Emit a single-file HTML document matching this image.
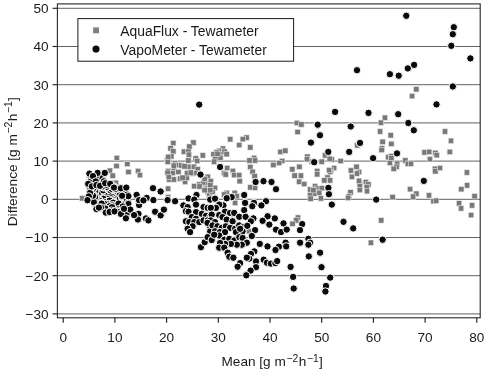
<!DOCTYPE html><html><head><meta charset="utf-8"><title>Bland-Altman plot</title><style>html,body{margin:0;padding:0;background:#fff}svg{display:block}text{font-family:"Liberation Sans",Arial,Helvetica,sans-serif;fill:#1a1a1a}</style></head><body>
<svg width="485" height="370" viewBox="0 0 485 370">
<rect width="485" height="370" fill="#fff"/>
<g stroke="#626262" stroke-width="1">
<line x1="57.4" x2="480.2" y1="313.90" y2="313.90"/>
<line x1="57.4" x2="480.2" y1="275.70" y2="275.70"/>
<line x1="57.4" x2="480.2" y1="237.50" y2="237.50"/>
<line x1="57.4" x2="480.2" y1="199.30" y2="199.30"/>
<line x1="57.4" x2="480.2" y1="161.10" y2="161.10"/>
<line x1="57.4" x2="480.2" y1="122.90" y2="122.90"/>
<line x1="57.4" x2="480.2" y1="84.70" y2="84.70"/>
<line x1="57.4" x2="480.2" y1="46.50" y2="46.50"/>
<line x1="57.4" x2="480.2" y1="8.30" y2="8.30"/>
</g>
<g fill="#797979" stroke="#e8e8e8" stroke-width="0.6">
<rect x="103.3" y="182.2" width="5.4" height="5.4"/>
<rect x="98.2" y="199.1" width="5.4" height="5.4"/>
<rect x="96.6" y="193.2" width="5.4" height="5.4"/>
<rect x="103.4" y="199.3" width="5.4" height="5.4"/>
<rect x="109.5" y="181.5" width="5.4" height="5.4"/>
<rect x="85.4" y="180.9" width="5.4" height="5.4"/>
<rect x="98.0" y="190.3" width="5.4" height="5.4"/>
<rect x="109.8" y="199.0" width="5.4" height="5.4"/>
<rect x="86.6" y="197.5" width="5.4" height="5.4"/>
<rect x="109.7" y="198.4" width="5.4" height="5.4"/>
<rect x="102.5" y="181.2" width="5.4" height="5.4"/>
<rect x="110.8" y="196.7" width="5.4" height="5.4"/>
<rect x="105.8" y="199.8" width="5.4" height="5.4"/>
<rect x="95.7" y="175.8" width="5.4" height="5.4"/>
<rect x="101.9" y="196.4" width="5.4" height="5.4"/>
<rect x="91.3" y="195.1" width="5.4" height="5.4"/>
<rect x="113.3" y="180.1" width="5.4" height="5.4"/>
<rect x="103.5" y="193.0" width="5.4" height="5.4"/>
<rect x="99.3" y="179.3" width="5.4" height="5.4"/>
<rect x="92.9" y="195.1" width="5.4" height="5.4"/>
<rect x="109.0" y="186.6" width="5.4" height="5.4"/>
<rect x="87.9" y="196.7" width="5.4" height="5.4"/>
<rect x="108.5" y="180.1" width="5.4" height="5.4"/>
<rect x="102.7" y="199.3" width="5.4" height="5.4"/>
<rect x="111.9" y="188.4" width="5.4" height="5.4"/>
<rect x="413.6" y="86.6" width="5.4" height="5.4"/>
<rect x="409.4" y="93.4" width="5.4" height="5.4"/>
<rect x="382.2" y="115.0" width="5.4" height="5.4"/>
<rect x="378.2" y="120.0" width="5.4" height="5.4"/>
<rect x="377.4" y="128.8" width="5.4" height="5.4"/>
<rect x="388.0" y="132.6" width="5.4" height="5.4"/>
<rect x="379.9" y="139.1" width="5.4" height="5.4"/>
<rect x="388.7" y="141.2" width="5.4" height="5.4"/>
<rect x="379.4" y="145.7" width="5.4" height="5.4"/>
<rect x="442.3" y="128.8" width="5.4" height="5.4"/>
<rect x="448.3" y="138.1" width="5.4" height="5.4"/>
<rect x="447.1" y="149.2" width="5.4" height="5.4"/>
<rect x="421.9" y="149.7" width="5.4" height="5.4"/>
<rect x="426.5" y="149.2" width="5.4" height="5.4"/>
<rect x="432.7" y="150.2" width="5.4" height="5.4"/>
<rect x="434.0" y="152.5" width="5.4" height="5.4"/>
<rect x="427.2" y="156.5" width="5.4" height="5.4"/>
<rect x="385.5" y="154.5" width="5.4" height="5.4"/>
<rect x="388.5" y="153.5" width="5.4" height="5.4"/>
<rect x="388.7" y="155.5" width="5.4" height="5.4"/>
<rect x="387.2" y="160.3" width="5.4" height="5.4"/>
<rect x="394.5" y="161.0" width="5.4" height="5.4"/>
<rect x="393.8" y="164.1" width="5.4" height="5.4"/>
<rect x="391.0" y="166.1" width="5.4" height="5.4"/>
<rect x="402.6" y="157.8" width="5.4" height="5.4"/>
<rect x="405.1" y="161.0" width="5.4" height="5.4"/>
<rect x="408.3" y="161.0" width="5.4" height="5.4"/>
<rect x="432.2" y="166.1" width="5.4" height="5.4"/>
<rect x="432.7" y="168.6" width="5.4" height="5.4"/>
<rect x="437.3" y="165.3" width="5.4" height="5.4"/>
<rect x="464.2" y="169.8" width="5.4" height="5.4"/>
<rect x="294.1" y="120.3" width="5.4" height="5.4"/>
<rect x="298.7" y="121.8" width="5.4" height="5.4"/>
<rect x="294.9" y="129.3" width="5.4" height="5.4"/>
<rect x="243.8" y="134.9" width="5.4" height="5.4"/>
<rect x="240.1" y="136.4" width="5.4" height="5.4"/>
<rect x="247.6" y="144.7" width="5.4" height="5.4"/>
<rect x="277.8" y="149.2" width="5.4" height="5.4"/>
<rect x="282.6" y="148.0" width="5.4" height="5.4"/>
<rect x="304.7" y="154.0" width="5.4" height="5.4"/>
<rect x="304.2" y="156.5" width="5.4" height="5.4"/>
<rect x="322.3" y="152.7" width="5.4" height="5.4"/>
<rect x="329.1" y="156.8" width="5.4" height="5.4"/>
<rect x="337.9" y="158.3" width="5.4" height="5.4"/>
<rect x="319.0" y="159.0" width="5.4" height="5.4"/>
<rect x="309.2" y="159.0" width="5.4" height="5.4"/>
<rect x="354.5" y="142.7" width="5.4" height="5.4"/>
<rect x="251.4" y="155.2" width="5.4" height="5.4"/>
<rect x="246.8" y="157.8" width="5.4" height="5.4"/>
<rect x="252.4" y="157.8" width="5.4" height="5.4"/>
<rect x="247.6" y="164.3" width="5.4" height="5.4"/>
<rect x="249.9" y="169.1" width="5.4" height="5.4"/>
<rect x="251.9" y="173.4" width="5.4" height="5.4"/>
<rect x="279.5" y="158.3" width="5.4" height="5.4"/>
<rect x="276.5" y="160.3" width="5.4" height="5.4"/>
<rect x="270.7" y="162.3" width="5.4" height="5.4"/>
<rect x="296.7" y="164.1" width="5.4" height="5.4"/>
<rect x="289.6" y="166.6" width="5.4" height="5.4"/>
<rect x="291.9" y="172.9" width="5.4" height="5.4"/>
<rect x="298.2" y="172.9" width="5.4" height="5.4"/>
<rect x="314.5" y="168.3" width="5.4" height="5.4"/>
<rect x="314.5" y="171.6" width="5.4" height="5.4"/>
<rect x="324.8" y="174.9" width="5.4" height="5.4"/>
<rect x="331.4" y="165.3" width="5.4" height="5.4"/>
<rect x="328.3" y="167.8" width="5.4" height="5.4"/>
<rect x="353.8" y="164.1" width="5.4" height="5.4"/>
<rect x="348.2" y="167.8" width="5.4" height="5.4"/>
<rect x="356.3" y="169.3" width="5.4" height="5.4"/>
<rect x="354.3" y="170.8" width="5.4" height="5.4"/>
<rect x="349.2" y="174.1" width="5.4" height="5.4"/>
<rect x="227.5" y="136.6" width="5.4" height="5.4"/>
<rect x="236.5" y="142.4" width="5.4" height="5.4"/>
<rect x="190.7" y="139.9" width="5.4" height="5.4"/>
<rect x="170.6" y="140.4" width="5.4" height="5.4"/>
<rect x="186.7" y="143.9" width="5.4" height="5.4"/>
<rect x="167.9" y="145.7" width="5.4" height="5.4"/>
<rect x="170.6" y="148.7" width="5.4" height="5.4"/>
<rect x="181.2" y="149.0" width="5.4" height="5.4"/>
<rect x="185.7" y="149.0" width="5.4" height="5.4"/>
<rect x="186.2" y="152.0" width="5.4" height="5.4"/>
<rect x="200.1" y="152.7" width="5.4" height="5.4"/>
<rect x="168.6" y="153.7" width="5.4" height="5.4"/>
<rect x="164.3" y="157.3" width="5.4" height="5.4"/>
<rect x="185.7" y="157.8" width="5.4" height="5.4"/>
<rect x="193.0" y="155.8" width="5.4" height="5.4"/>
<rect x="194.5" y="158.3" width="5.4" height="5.4"/>
<rect x="220.2" y="145.9" width="5.4" height="5.4"/>
<rect x="216.4" y="148.2" width="5.4" height="5.4"/>
<rect x="213.9" y="149.7" width="5.4" height="5.4"/>
<rect x="210.9" y="151.7" width="5.4" height="5.4"/>
<rect x="217.7" y="151.5" width="5.4" height="5.4"/>
<rect x="221.9" y="149.0" width="5.4" height="5.4"/>
<rect x="223.9" y="151.5" width="5.4" height="5.4"/>
<rect x="217.7" y="155.2" width="5.4" height="5.4"/>
<rect x="212.6" y="156.5" width="5.4" height="5.4"/>
<rect x="211.4" y="159.0" width="5.4" height="5.4"/>
<rect x="124.6" y="161.3" width="5.4" height="5.4"/>
<rect x="125.8" y="169.3" width="5.4" height="5.4"/>
<rect x="135.4" y="168.3" width="5.4" height="5.4"/>
<rect x="137.2" y="172.4" width="5.4" height="5.4"/>
<rect x="172.4" y="160.8" width="5.4" height="5.4"/>
<rect x="174.9" y="162.3" width="5.4" height="5.4"/>
<rect x="178.7" y="162.8" width="5.4" height="5.4"/>
<rect x="171.1" y="165.3" width="5.4" height="5.4"/>
<rect x="165.6" y="168.3" width="5.4" height="5.4"/>
<rect x="175.7" y="169.3" width="5.4" height="5.4"/>
<rect x="169.9" y="170.3" width="5.4" height="5.4"/>
<rect x="185.7" y="164.1" width="5.4" height="5.4"/>
<rect x="191.2" y="164.1" width="5.4" height="5.4"/>
<rect x="195.0" y="166.6" width="5.4" height="5.4"/>
<rect x="186.2" y="170.3" width="5.4" height="5.4"/>
<rect x="190.0" y="170.8" width="5.4" height="5.4"/>
<rect x="193.8" y="170.3" width="5.4" height="5.4"/>
<rect x="224.5" y="165.3" width="5.4" height="5.4"/>
<rect x="230.2" y="168.3" width="5.4" height="5.4"/>
<rect x="221.4" y="170.3" width="5.4" height="5.4"/>
<rect x="231.5" y="172.4" width="5.4" height="5.4"/>
<rect x="236.5" y="172.4" width="5.4" height="5.4"/>
<rect x="205.1" y="174.1" width="5.4" height="5.4"/>
<rect x="107.2" y="168.0" width="5.4" height="5.4"/>
<rect x="110.0" y="173.0" width="5.4" height="5.4"/>
<rect x="113.8" y="163.3" width="5.4" height="5.4"/>
<rect x="79.6" y="195.6" width="5.4" height="5.4"/>
<rect x="164.9" y="170.1" width="5.4" height="5.4"/>
<rect x="166.5" y="176.8" width="5.4" height="5.4"/>
<rect x="171.1" y="176.8" width="5.4" height="5.4"/>
<rect x="177.4" y="176.0" width="5.4" height="5.4"/>
<rect x="182.4" y="179.3" width="5.4" height="5.4"/>
<rect x="184.1" y="175.1" width="5.4" height="5.4"/>
<rect x="165.4" y="186.0" width="5.4" height="5.4"/>
<rect x="191.6" y="183.5" width="5.4" height="5.4"/>
<rect x="196.6" y="181.8" width="5.4" height="5.4"/>
<rect x="200.8" y="180.2" width="5.4" height="5.4"/>
<rect x="205.8" y="181.0" width="5.4" height="5.4"/>
<rect x="203.3" y="185.2" width="5.4" height="5.4"/>
<rect x="205.0" y="189.3" width="5.4" height="5.4"/>
<rect x="206.6" y="191.8" width="5.4" height="5.4"/>
<rect x="165.4" y="194.4" width="5.4" height="5.4"/>
<rect x="208.1" y="178.5" width="5.4" height="5.4"/>
<rect x="212.3" y="185.2" width="5.4" height="5.4"/>
<rect x="209.8" y="189.3" width="5.4" height="5.4"/>
<rect x="204.8" y="186.0" width="5.4" height="5.4"/>
<rect x="237.0" y="178.5" width="5.4" height="5.4"/>
<rect x="247.7" y="184.7" width="5.4" height="5.4"/>
<rect x="252.4" y="185.2" width="5.4" height="5.4"/>
<rect x="224.0" y="190.2" width="5.4" height="5.4"/>
<rect x="221.5" y="191.8" width="5.4" height="5.4"/>
<rect x="232.0" y="190.2" width="5.4" height="5.4"/>
<rect x="234.0" y="193.5" width="5.4" height="5.4"/>
<rect x="232.4" y="200.2" width="5.4" height="5.4"/>
<rect x="246.6" y="228.6" width="5.4" height="5.4"/>
<rect x="296.5" y="179.0" width="5.4" height="5.4"/>
<rect x="301.5" y="181.3" width="5.4" height="5.4"/>
<rect x="327.4" y="177.7" width="5.4" height="5.4"/>
<rect x="321.6" y="177.7" width="5.4" height="5.4"/>
<rect x="327.4" y="169.3" width="5.4" height="5.4"/>
<rect x="312.4" y="183.5" width="5.4" height="5.4"/>
<rect x="314.4" y="186.0" width="5.4" height="5.4"/>
<rect x="319.1" y="185.5" width="5.4" height="5.4"/>
<rect x="307.4" y="186.8" width="5.4" height="5.4"/>
<rect x="313.2" y="189.0" width="5.4" height="5.4"/>
<rect x="316.5" y="190.2" width="5.4" height="5.4"/>
<rect x="311.5" y="191.0" width="5.4" height="5.4"/>
<rect x="307.4" y="192.3" width="5.4" height="5.4"/>
<rect x="318.2" y="195.7" width="5.4" height="5.4"/>
<rect x="307.9" y="196.0" width="5.4" height="5.4"/>
<rect x="347.8" y="189.7" width="5.4" height="5.4"/>
<rect x="346.3" y="193.5" width="5.4" height="5.4"/>
<rect x="345.4" y="195.2" width="5.4" height="5.4"/>
<rect x="357.1" y="180.2" width="5.4" height="5.4"/>
<rect x="357.1" y="183.5" width="5.4" height="5.4"/>
<rect x="357.1" y="187.3" width="5.4" height="5.4"/>
<rect x="295.2" y="214.9" width="5.4" height="5.4"/>
<rect x="293.5" y="217.7" width="5.4" height="5.4"/>
<rect x="289.8" y="221.1" width="5.4" height="5.4"/>
<rect x="363.2" y="179.3" width="5.4" height="5.4"/>
<rect x="365.7" y="181.8" width="5.4" height="5.4"/>
<rect x="364.0" y="184.3" width="5.4" height="5.4"/>
<rect x="364.3" y="188.5" width="5.4" height="5.4"/>
<rect x="389.9" y="194.4" width="5.4" height="5.4"/>
<rect x="407.4" y="186.5" width="5.4" height="5.4"/>
<rect x="413.6" y="191.0" width="5.4" height="5.4"/>
<rect x="410.4" y="193.9" width="5.4" height="5.4"/>
<rect x="426.3" y="192.7" width="5.4" height="5.4"/>
<rect x="430.8" y="198.5" width="5.4" height="5.4"/>
<rect x="378.5" y="217.7" width="5.4" height="5.4"/>
<rect x="433.5" y="198.0" width="5.4" height="5.4"/>
<rect x="464.4" y="182.7" width="5.4" height="5.4"/>
<rect x="458.6" y="186.5" width="5.4" height="5.4"/>
<rect x="471.9" y="193.5" width="5.4" height="5.4"/>
<rect x="456.4" y="200.7" width="5.4" height="5.4"/>
<rect x="458.4" y="205.7" width="5.4" height="5.4"/>
<rect x="469.4" y="202.7" width="5.4" height="5.4"/>
<rect x="468.4" y="212.4" width="5.4" height="5.4"/>
<rect x="368.2" y="240.0" width="5.4" height="5.4"/>
<rect x="114.1" y="155.3" width="5.4" height="5.4"/>
<rect x="165.5" y="154.2" width="5.4" height="5.4"/>
<rect x="165.1" y="159.2" width="5.4" height="5.4"/>
<rect x="171.1" y="163.0" width="5.4" height="5.4"/>
<rect x="181.8" y="163.7" width="5.4" height="5.4"/>
<rect x="184.3" y="170.6" width="5.4" height="5.4"/>
<rect x="188.1" y="169.9" width="5.4" height="5.4"/>
<rect x="166.1" y="174.3" width="5.4" height="5.4"/>
<rect x="179.9" y="175.0" width="5.4" height="5.4"/>
<rect x="196.9" y="183.8" width="5.4" height="5.4"/>
<rect x="201.9" y="176.2" width="5.4" height="5.4"/>
<rect x="207.6" y="182.5" width="5.4" height="5.4"/>
<rect x="201.9" y="187.5" width="5.4" height="5.4"/>
<rect x="207.6" y="187.5" width="5.4" height="5.4"/>
<rect x="214.8" y="151.1" width="5.4" height="5.4"/>
<rect x="223.0" y="171.8" width="5.4" height="5.4"/>
<rect x="327.0" y="156.1" width="5.4" height="5.4"/>
<rect x="326.4" y="167.4" width="5.4" height="5.4"/>
<rect x="310.7" y="187.5" width="5.4" height="5.4"/>
<rect x="356.3" y="178.1" width="5.4" height="5.4"/>
<rect x="378.9" y="147.3" width="5.4" height="5.4"/>
</g>
<g fill="#0a0a0a" stroke="#fff" stroke-width="1.0">
<circle cx="108.6" cy="198.0" r="3.7"/>
<circle cx="113.4" cy="198.8" r="3.7"/>
<circle cx="108.1" cy="196.0" r="3.7"/>
<circle cx="102.2" cy="196.2" r="3.7"/>
<circle cx="108.6" cy="197.8" r="3.7"/>
<circle cx="103.5" cy="195.3" r="3.7"/>
<circle cx="112.7" cy="197.6" r="3.7"/>
<circle cx="111.3" cy="199.2" r="3.7"/>
<circle cx="106.4" cy="198.9" r="3.7"/>
<circle cx="106.2" cy="197.9" r="3.7"/>
<circle cx="105.1" cy="195.6" r="3.7"/>
<circle cx="103.3" cy="196.4" r="3.7"/>
<circle cx="107.3" cy="196.2" r="3.7"/>
<circle cx="101.7" cy="192.0" r="3.7"/>
<circle cx="111.2" cy="197.3" r="3.7"/>
<circle cx="114.6" cy="196.7" r="3.7"/>
<circle cx="104.3" cy="197.4" r="3.7"/>
<circle cx="100.6" cy="191.6" r="3.7"/>
<circle cx="111.4" cy="203.2" r="3.7"/>
<circle cx="110.4" cy="197.4" r="3.7"/>
<circle cx="103.6" cy="193.0" r="3.7"/>
<circle cx="100.0" cy="197.0" r="3.7"/>
<circle cx="114.0" cy="196.3" r="3.7"/>
<circle cx="119.5" cy="204.0" r="3.7"/>
<circle cx="101.2" cy="198.7" r="3.7"/>
<circle cx="112.8" cy="194.9" r="3.7"/>
<circle cx="104.6" cy="200.6" r="3.7"/>
<circle cx="103.4" cy="198.8" r="3.7"/>
<circle cx="101.3" cy="193.7" r="3.7"/>
<circle cx="99.8" cy="191.5" r="3.7"/>
<circle cx="104.7" cy="202.4" r="3.7"/>
<circle cx="99.6" cy="191.7" r="3.7"/>
<circle cx="101.5" cy="191.3" r="3.7"/>
<circle cx="115.6" cy="192.9" r="3.7"/>
<circle cx="109.1" cy="202.7" r="3.7"/>
<circle cx="96.8" cy="188.5" r="3.7"/>
<circle cx="98.8" cy="193.8" r="3.7"/>
<circle cx="105.9" cy="192.5" r="3.7"/>
<circle cx="96.8" cy="181.2" r="3.7"/>
<circle cx="114.6" cy="194.6" r="3.7"/>
<circle cx="104.6" cy="199.6" r="3.7"/>
<circle cx="109.3" cy="194.0" r="3.7"/>
<circle cx="113.4" cy="202.5" r="3.7"/>
<circle cx="118.1" cy="201.3" r="3.7"/>
<circle cx="101.2" cy="194.6" r="3.7"/>
<circle cx="97.6" cy="191.3" r="3.7"/>
<circle cx="114.2" cy="192.2" r="3.7"/>
<circle cx="102.6" cy="201.6" r="3.7"/>
<circle cx="106.8" cy="195.1" r="3.7"/>
<circle cx="95.7" cy="182.5" r="3.7"/>
<circle cx="99.8" cy="198.7" r="3.7"/>
<circle cx="120.5" cy="194.1" r="3.7"/>
<circle cx="114.2" cy="203.7" r="3.7"/>
<circle cx="105.5" cy="201.6" r="3.7"/>
<circle cx="97.7" cy="187.7" r="3.7"/>
<circle cx="99.6" cy="200.1" r="3.7"/>
<circle cx="101.9" cy="199.9" r="3.7"/>
<circle cx="96.7" cy="191.5" r="3.7"/>
<circle cx="97.3" cy="195.2" r="3.7"/>
<circle cx="117.9" cy="203.5" r="3.7"/>
<circle cx="98.4" cy="193.7" r="3.7"/>
<circle cx="95.5" cy="191.3" r="3.7"/>
<circle cx="117.5" cy="206.8" r="3.7"/>
<circle cx="97.3" cy="181.9" r="3.7"/>
<circle cx="119.5" cy="199.2" r="3.7"/>
<circle cx="101.9" cy="190.0" r="3.7"/>
<circle cx="108.7" cy="203.3" r="3.7"/>
<circle cx="111.1" cy="192.4" r="3.7"/>
<circle cx="120.8" cy="194.8" r="3.7"/>
<circle cx="107.5" cy="206.3" r="3.7"/>
<circle cx="118.8" cy="193.0" r="3.7"/>
<circle cx="108.9" cy="190.7" r="3.7"/>
<circle cx="120.9" cy="204.1" r="3.7"/>
<circle cx="95.0" cy="197.4" r="3.7"/>
<circle cx="117.3" cy="191.9" r="3.7"/>
<circle cx="99.7" cy="188.3" r="3.7"/>
<circle cx="96.2" cy="182.9" r="3.7"/>
<circle cx="118.3" cy="195.9" r="3.7"/>
<circle cx="99.3" cy="185.1" r="3.7"/>
<circle cx="121.5" cy="200.1" r="3.7"/>
<circle cx="99.1" cy="195.7" r="3.7"/>
<circle cx="114.9" cy="206.8" r="3.7"/>
<circle cx="96.1" cy="181.7" r="3.7"/>
<circle cx="95.5" cy="194.6" r="3.7"/>
<circle cx="102.1" cy="199.7" r="3.7"/>
<circle cx="96.3" cy="184.4" r="3.7"/>
<circle cx="103.2" cy="198.7" r="3.7"/>
<circle cx="95.3" cy="191.8" r="3.7"/>
<circle cx="115.2" cy="207.1" r="3.7"/>
<circle cx="123.6" cy="204.6" r="3.7"/>
<circle cx="102.2" cy="190.0" r="3.7"/>
<circle cx="103.1" cy="206.0" r="3.7"/>
<circle cx="102.3" cy="186.6" r="3.7"/>
<circle cx="106.2" cy="190.1" r="3.7"/>
<circle cx="109.3" cy="202.6" r="3.7"/>
<circle cx="101.6" cy="187.6" r="3.7"/>
<circle cx="94.7" cy="190.4" r="3.7"/>
<circle cx="103.7" cy="190.1" r="3.7"/>
<circle cx="114.4" cy="205.8" r="3.7"/>
<circle cx="105.9" cy="202.0" r="3.7"/>
<circle cx="102.9" cy="205.4" r="3.7"/>
<circle cx="109.7" cy="200.6" r="3.7"/>
<circle cx="119.9" cy="198.9" r="3.7"/>
<circle cx="101.2" cy="188.1" r="3.7"/>
<circle cx="104.9" cy="204.9" r="3.7"/>
<circle cx="108.8" cy="203.9" r="3.7"/>
<circle cx="102.0" cy="187.8" r="3.7"/>
<circle cx="113.2" cy="202.7" r="3.7"/>
<circle cx="112.4" cy="193.5" r="3.7"/>
<circle cx="109.4" cy="189.5" r="3.7"/>
<circle cx="98.0" cy="193.0" r="3.7"/>
<circle cx="96.2" cy="183.5" r="3.7"/>
<circle cx="96.4" cy="187.5" r="3.7"/>
<circle cx="100.2" cy="180.5" r="3.7"/>
<circle cx="95.5" cy="181.8" r="3.7"/>
<circle cx="120.8" cy="204.8" r="3.7"/>
<circle cx="103.5" cy="207.3" r="3.7"/>
<circle cx="108.4" cy="205.8" r="3.7"/>
<circle cx="107.6" cy="191.9" r="3.7"/>
<circle cx="121.6" cy="202.6" r="3.7"/>
<circle cx="94.9" cy="186.9" r="3.7"/>
<circle cx="100.6" cy="183.2" r="3.7"/>
<circle cx="116.9" cy="206.8" r="3.7"/>
<circle cx="97.8" cy="181.6" r="3.7"/>
<circle cx="107.2" cy="205.2" r="3.7"/>
<circle cx="99.3" cy="199.7" r="3.7"/>
<circle cx="94.1" cy="182.7" r="3.7"/>
<circle cx="115.2" cy="188.1" r="3.7"/>
<circle cx="99.2" cy="184.8" r="3.7"/>
<circle cx="96.5" cy="201.6" r="3.7"/>
<circle cx="96.9" cy="184.0" r="3.7"/>
<circle cx="123.1" cy="209.4" r="3.7"/>
<circle cx="95.4" cy="195.2" r="3.7"/>
<circle cx="114.9" cy="190.1" r="3.7"/>
<circle cx="108.2" cy="189.4" r="3.7"/>
<circle cx="123.3" cy="209.4" r="3.7"/>
<circle cx="93.6" cy="185.8" r="3.7"/>
<circle cx="99.4" cy="200.8" r="3.7"/>
<circle cx="112.7" cy="205.2" r="3.7"/>
<circle cx="110.3" cy="188.5" r="3.7"/>
<circle cx="125.2" cy="194.9" r="3.7"/>
<circle cx="96.0" cy="200.2" r="3.7"/>
<circle cx="123.0" cy="198.7" r="3.7"/>
<circle cx="106.4" cy="203.8" r="3.7"/>
<circle cx="120.7" cy="191.1" r="3.7"/>
<circle cx="113.8" cy="186.4" r="3.7"/>
<circle cx="107.1" cy="187.2" r="3.7"/>
<circle cx="114.7" cy="206.1" r="3.7"/>
<circle cx="104.2" cy="203.9" r="3.7"/>
<circle cx="111.6" cy="187.6" r="3.7"/>
<circle cx="118.6" cy="203.6" r="3.7"/>
<circle cx="99.2" cy="188.0" r="3.7"/>
<circle cx="120.3" cy="193.3" r="3.7"/>
<circle cx="111.1" cy="192.7" r="3.7"/>
<circle cx="94.7" cy="188.6" r="3.7"/>
<circle cx="99.5" cy="183.4" r="3.7"/>
<circle cx="104.6" cy="188.3" r="3.7"/>
<circle cx="111.3" cy="190.1" r="3.7"/>
<circle cx="108.7" cy="189.2" r="3.7"/>
<circle cx="95.0" cy="200.7" r="3.7"/>
<circle cx="91.5" cy="191.5" r="3.7"/>
<circle cx="94.2" cy="182.7" r="3.7"/>
<circle cx="117.7" cy="191.8" r="3.7"/>
<circle cx="103.2" cy="190.3" r="3.7"/>
<circle cx="122.4" cy="208.1" r="3.7"/>
<circle cx="122.6" cy="197.3" r="3.7"/>
<circle cx="90.3" cy="182.1" r="3.7"/>
<circle cx="100.9" cy="203.0" r="3.7"/>
<circle cx="124.2" cy="196.5" r="3.7"/>
<circle cx="101.8" cy="179.0" r="3.7"/>
<circle cx="124.1" cy="209.4" r="3.7"/>
<circle cx="108.5" cy="189.3" r="3.7"/>
<circle cx="92.4" cy="194.5" r="3.7"/>
<circle cx="103.8" cy="187.5" r="3.7"/>
<circle cx="102.5" cy="186.9" r="3.7"/>
<circle cx="118.2" cy="209.3" r="3.7"/>
<circle cx="90.1" cy="180.5" r="3.7"/>
<circle cx="121.8" cy="196.4" r="3.7"/>
<circle cx="93.8" cy="196.3" r="3.7"/>
<circle cx="95.8" cy="200.8" r="3.7"/>
<circle cx="109.1" cy="206.8" r="3.7"/>
<circle cx="110.0" cy="190.0" r="3.7"/>
<circle cx="94.8" cy="180.7" r="3.7"/>
<circle cx="92.2" cy="177.1" r="3.7"/>
<circle cx="90.9" cy="187.3" r="3.7"/>
<circle cx="126.7" cy="205.6" r="3.7"/>
<circle cx="103.0" cy="180.5" r="3.7"/>
<circle cx="119.9" cy="193.2" r="3.7"/>
<circle cx="109.3" cy="187.0" r="3.7"/>
<circle cx="98.9" cy="181.0" r="3.7"/>
<circle cx="124.3" cy="211.3" r="3.7"/>
<circle cx="99.3" cy="179.4" r="3.7"/>
<circle cx="124.1" cy="192.2" r="3.7"/>
<circle cx="109.6" cy="206.2" r="3.7"/>
<circle cx="90.8" cy="197.3" r="3.7"/>
<circle cx="97.0" cy="204.0" r="3.7"/>
<circle cx="126.4" cy="193.2" r="3.7"/>
<circle cx="125.7" cy="202.6" r="3.7"/>
<circle cx="91.2" cy="190.0" r="3.7"/>
<circle cx="95.4" cy="185.1" r="3.7"/>
<circle cx="91.2" cy="182.2" r="3.7"/>
<circle cx="127.7" cy="203.1" r="3.7"/>
<circle cx="112.3" cy="190.2" r="3.7"/>
<circle cx="94.9" cy="191.4" r="3.7"/>
<circle cx="122.9" cy="207.1" r="3.7"/>
<circle cx="110.6" cy="190.4" r="3.7"/>
<circle cx="94.2" cy="177.1" r="3.7"/>
<circle cx="121.4" cy="211.7" r="3.7"/>
<circle cx="93.6" cy="179.4" r="3.7"/>
<circle cx="96.5" cy="177.1" r="3.7"/>
<circle cx="126.8" cy="199.1" r="3.7"/>
<circle cx="125.5" cy="213.5" r="3.7"/>
<circle cx="94.3" cy="200.6" r="3.7"/>
<circle cx="103.0" cy="184.6" r="3.7"/>
<circle cx="111.8" cy="188.9" r="3.7"/>
<circle cx="96.7" cy="206.8" r="3.7"/>
<circle cx="94.4" cy="184.9" r="3.7"/>
<circle cx="93.5" cy="188.4" r="3.7"/>
<circle cx="127.5" cy="207.4" r="3.7"/>
<circle cx="124.3" cy="192.2" r="3.7"/>
<circle cx="126.7" cy="211.8" r="3.7"/>
<circle cx="97.9" cy="180.0" r="3.7"/>
<circle cx="94.4" cy="202.9" r="3.7"/>
<circle cx="101.6" cy="203.6" r="3.7"/>
<circle cx="90.9" cy="197.3" r="3.7"/>
<circle cx="92.6" cy="181.0" r="3.7"/>
<circle cx="90.5" cy="180.7" r="3.7"/>
<circle cx="91.7" cy="193.0" r="3.7"/>
<circle cx="108.3" cy="184.8" r="3.7"/>
<circle cx="114.8" cy="187.9" r="3.7"/>
<circle cx="100.8" cy="182.8" r="3.7"/>
<circle cx="90.7" cy="191.7" r="3.7"/>
<circle cx="126.3" cy="207.0" r="3.7"/>
<circle cx="92.9" cy="200.6" r="3.7"/>
<circle cx="119.9" cy="211.5" r="3.7"/>
<circle cx="100.9" cy="175.9" r="3.7"/>
<circle cx="116.6" cy="189.2" r="3.7"/>
<circle cx="128.3" cy="202.7" r="3.7"/>
<circle cx="112.0" cy="207.2" r="3.7"/>
<circle cx="102.0" cy="186.0" r="3.7"/>
<circle cx="95.1" cy="197.0" r="3.7"/>
<circle cx="91.4" cy="195.4" r="3.7"/>
<circle cx="93.3" cy="194.6" r="3.7"/>
<circle cx="91.9" cy="192.2" r="3.7"/>
<circle cx="125.8" cy="213.1" r="3.7"/>
<circle cx="93.8" cy="202.1" r="3.7"/>
<circle cx="123.1" cy="209.9" r="3.7"/>
<circle cx="90.0" cy="181.8" r="3.7"/>
<circle cx="128.1" cy="211.7" r="3.7"/>
<circle cx="104.1" cy="183.9" r="3.7"/>
<circle cx="111.5" cy="210.6" r="3.7"/>
<circle cx="115.7" cy="210.8" r="3.7"/>
<circle cx="102.9" cy="182.1" r="3.7"/>
<circle cx="108.8" cy="185.9" r="3.7"/>
<circle cx="106.1" cy="184.9" r="3.7"/>
<circle cx="90.3" cy="192.1" r="3.7"/>
<circle cx="93.0" cy="195.7" r="3.7"/>
<circle cx="106.2" cy="187.0" r="3.7"/>
<circle cx="97.8" cy="208.1" r="3.7"/>
<circle cx="106.5" cy="184.5" r="3.7"/>
<circle cx="103.1" cy="186.3" r="3.7"/>
<circle cx="115.3" cy="188.9" r="3.7"/>
<circle cx="99.9" cy="176.4" r="3.7"/>
<circle cx="126.9" cy="212.7" r="3.7"/>
<circle cx="105.4" cy="208.6" r="3.7"/>
<circle cx="90.5" cy="188.2" r="3.7"/>
<circle cx="90.2" cy="176.5" r="3.7"/>
<circle cx="127.3" cy="194.6" r="3.7"/>
<circle cx="118.2" cy="212.1" r="3.7"/>
<circle cx="91.1" cy="183.9" r="3.7"/>
<circle cx="90.9" cy="179.4" r="3.7"/>
<circle cx="95.9" cy="176.4" r="3.7"/>
<circle cx="90.3" cy="181.9" r="3.7"/>
<circle cx="103.7" cy="182.8" r="3.7"/>
<circle cx="96.8" cy="208.1" r="3.7"/>
<circle cx="101.0" cy="207.5" r="3.7"/>
<circle cx="112.3" cy="186.3" r="3.7"/>
<circle cx="90.0" cy="192.8" r="3.7"/>
<circle cx="103.9" cy="181.3" r="3.7"/>
<circle cx="106.2" cy="184.8" r="3.7"/>
<circle cx="406.3" cy="15.8" r="3.7"/>
<circle cx="453.8" cy="27.2" r="3.7"/>
<circle cx="452.8" cy="34.2" r="3.7"/>
<circle cx="451.3" cy="45.8" r="3.7"/>
<circle cx="470.4" cy="58.4" r="3.7"/>
<circle cx="414.1" cy="64.9" r="3.7"/>
<circle cx="407.8" cy="68.4" r="3.7"/>
<circle cx="389.9" cy="74.2" r="3.7"/>
<circle cx="398.7" cy="75.7" r="3.7"/>
<circle cx="452.8" cy="86.5" r="3.7"/>
<circle cx="357.0" cy="70.2" r="3.7"/>
<circle cx="436.5" cy="104.4" r="3.7"/>
<circle cx="368.5" cy="112.9" r="3.7"/>
<circle cx="398.2" cy="114.2" r="3.7"/>
<circle cx="408.3" cy="123.0" r="3.7"/>
<circle cx="413.8" cy="130.3" r="3.7"/>
<circle cx="397.0" cy="153.4" r="3.7"/>
<circle cx="373.1" cy="158.2" r="3.7"/>
<circle cx="335.1" cy="111.9" r="3.7"/>
<circle cx="317.7" cy="124.7" r="3.7"/>
<circle cx="350.7" cy="126.5" r="3.7"/>
<circle cx="320.0" cy="135.3" r="3.7"/>
<circle cx="310.9" cy="142.6" r="3.7"/>
<circle cx="360.0" cy="142.9" r="3.7"/>
<circle cx="328.3" cy="151.9" r="3.7"/>
<circle cx="349.2" cy="151.9" r="3.7"/>
<circle cx="314.2" cy="162.2" r="3.7"/>
<circle cx="199.2" cy="104.6" r="3.7"/>
<circle cx="220.1" cy="167.0" r="3.7"/>
<circle cx="200.5" cy="174.6" r="3.7"/>
<circle cx="89.4" cy="173.6" r="3.7"/>
<circle cx="97.6" cy="172.9" r="3.7"/>
<circle cx="104.8" cy="172.9" r="3.7"/>
<circle cx="93.0" cy="176.1" r="3.7"/>
<circle cx="95.7" cy="181.4" r="3.7"/>
<circle cx="88.2" cy="183.9" r="3.7"/>
<circle cx="91.9" cy="186.4" r="3.7"/>
<circle cx="96.4" cy="185.1" r="3.7"/>
<circle cx="100.1" cy="185.8" r="3.7"/>
<circle cx="105.2" cy="183.2" r="3.7"/>
<circle cx="110.2" cy="183.9" r="3.7"/>
<circle cx="114.0" cy="187.6" r="3.7"/>
<circle cx="120.9" cy="188.3" r="3.7"/>
<circle cx="126.3" cy="187.6" r="3.7"/>
<circle cx="128.4" cy="196.2" r="3.7"/>
<circle cx="136.6" cy="194.9" r="3.7"/>
<circle cx="122.1" cy="195.8" r="3.7"/>
<circle cx="88.8" cy="196.4" r="3.7"/>
<circle cx="87.5" cy="200.2" r="3.7"/>
<circle cx="128.4" cy="204.0" r="3.7"/>
<circle cx="139.1" cy="205.0" r="3.7"/>
<circle cx="139.1" cy="200.2" r="3.7"/>
<circle cx="96.4" cy="209.0" r="3.7"/>
<circle cx="130.3" cy="209.6" r="3.7"/>
<circle cx="122.8" cy="206.5" r="3.7"/>
<circle cx="98.9" cy="207.6" r="3.7"/>
<circle cx="105.8" cy="212.6" r="3.7"/>
<circle cx="109.6" cy="212.0" r="3.7"/>
<circle cx="114.6" cy="211.4" r="3.7"/>
<circle cx="120.9" cy="213.9" r="3.7"/>
<circle cx="125.9" cy="218.3" r="3.7"/>
<circle cx="124.0" cy="208.8" r="3.7"/>
<circle cx="138.5" cy="213.9" r="3.7"/>
<circle cx="137.9" cy="219.5" r="3.7"/>
<circle cx="134.1" cy="215.1" r="3.7"/>
<circle cx="153.0" cy="188.2" r="3.7"/>
<circle cx="160.6" cy="191.5" r="3.7"/>
<circle cx="146.7" cy="197.9" r="3.7"/>
<circle cx="143.4" cy="200.4" r="3.7"/>
<circle cx="153.4" cy="200.1" r="3.7"/>
<circle cx="167.6" cy="200.1" r="3.7"/>
<circle cx="175.1" cy="201.2" r="3.7"/>
<circle cx="145.9" cy="218.4" r="3.7"/>
<circle cx="148.4" cy="220.4" r="3.7"/>
<circle cx="155.1" cy="211.7" r="3.7"/>
<circle cx="160.6" cy="215.4" r="3.7"/>
<circle cx="163.9" cy="209.6" r="3.7"/>
<circle cx="196.5" cy="195.0" r="3.7"/>
<circle cx="188.5" cy="198.4" r="3.7"/>
<circle cx="194.3" cy="199.6" r="3.7"/>
<circle cx="196.0" cy="204.6" r="3.7"/>
<circle cx="183.4" cy="205.4" r="3.7"/>
<circle cx="187.6" cy="207.1" r="3.7"/>
<circle cx="203.5" cy="207.1" r="3.7"/>
<circle cx="210.2" cy="199.6" r="3.7"/>
<circle cx="207.7" cy="207.9" r="3.7"/>
<circle cx="185.9" cy="211.2" r="3.7"/>
<circle cx="188.5" cy="211.7" r="3.7"/>
<circle cx="196.0" cy="212.1" r="3.7"/>
<circle cx="201.8" cy="213.8" r="3.7"/>
<circle cx="206.0" cy="215.8" r="3.7"/>
<circle cx="210.2" cy="217.1" r="3.7"/>
<circle cx="191.8" cy="217.1" r="3.7"/>
<circle cx="196.0" cy="218.8" r="3.7"/>
<circle cx="185.9" cy="221.3" r="3.7"/>
<circle cx="189.3" cy="222.1" r="3.7"/>
<circle cx="194.3" cy="222.1" r="3.7"/>
<circle cx="199.3" cy="222.1" r="3.7"/>
<circle cx="203.5" cy="220.4" r="3.7"/>
<circle cx="207.7" cy="220.4" r="3.7"/>
<circle cx="192.6" cy="226.3" r="3.7"/>
<circle cx="187.6" cy="228.8" r="3.7"/>
<circle cx="190.1" cy="232.1" r="3.7"/>
<circle cx="210.2" cy="227.1" r="3.7"/>
<circle cx="210.2" cy="231.3" r="3.7"/>
<circle cx="255.6" cy="182.0" r="3.7"/>
<circle cx="263.5" cy="181.2" r="3.7"/>
<circle cx="271.5" cy="182.0" r="3.7"/>
<circle cx="276.0" cy="189.2" r="3.7"/>
<circle cx="244.2" cy="195.0" r="3.7"/>
<circle cx="231.7" cy="197.1" r="3.7"/>
<circle cx="226.7" cy="198.2" r="3.7"/>
<circle cx="215.0" cy="198.7" r="3.7"/>
<circle cx="245.1" cy="202.9" r="3.7"/>
<circle cx="253.9" cy="202.9" r="3.7"/>
<circle cx="266.0" cy="201.2" r="3.7"/>
<circle cx="261.4" cy="205.4" r="3.7"/>
<circle cx="252.3" cy="206.2" r="3.7"/>
<circle cx="223.4" cy="205.4" r="3.7"/>
<circle cx="219.2" cy="204.6" r="3.7"/>
<circle cx="215.9" cy="207.9" r="3.7"/>
<circle cx="210.8" cy="207.9" r="3.7"/>
<circle cx="244.2" cy="210.1" r="3.7"/>
<circle cx="225.0" cy="211.7" r="3.7"/>
<circle cx="230.1" cy="212.9" r="3.7"/>
<circle cx="234.2" cy="212.9" r="3.7"/>
<circle cx="239.2" cy="216.8" r="3.7"/>
<circle cx="245.6" cy="216.8" r="3.7"/>
<circle cx="253.4" cy="218.4" r="3.7"/>
<circle cx="250.9" cy="221.3" r="3.7"/>
<circle cx="267.6" cy="216.3" r="3.7"/>
<circle cx="274.8" cy="218.4" r="3.7"/>
<circle cx="262.6" cy="220.8" r="3.7"/>
<circle cx="269.3" cy="224.6" r="3.7"/>
<circle cx="283.5" cy="223.4" r="3.7"/>
<circle cx="276.0" cy="229.6" r="3.7"/>
<circle cx="281.0" cy="232.1" r="3.7"/>
<circle cx="211.7" cy="214.6" r="3.7"/>
<circle cx="219.2" cy="215.1" r="3.7"/>
<circle cx="222.5" cy="217.1" r="3.7"/>
<circle cx="210.8" cy="220.4" r="3.7"/>
<circle cx="215.0" cy="222.1" r="3.7"/>
<circle cx="226.7" cy="219.6" r="3.7"/>
<circle cx="232.6" cy="221.3" r="3.7"/>
<circle cx="207.5" cy="222.9" r="3.7"/>
<circle cx="212.5" cy="225.4" r="3.7"/>
<circle cx="217.5" cy="226.3" r="3.7"/>
<circle cx="221.7" cy="227.9" r="3.7"/>
<circle cx="225.9" cy="226.3" r="3.7"/>
<circle cx="230.1" cy="227.9" r="3.7"/>
<circle cx="235.1" cy="228.8" r="3.7"/>
<circle cx="239.2" cy="225.4" r="3.7"/>
<circle cx="243.4" cy="227.1" r="3.7"/>
<circle cx="247.3" cy="225.8" r="3.7"/>
<circle cx="215.0" cy="231.3" r="3.7"/>
<circle cx="220.0" cy="232.1" r="3.7"/>
<circle cx="225.0" cy="232.1" r="3.7"/>
<circle cx="242.6" cy="231.3" r="3.7"/>
<circle cx="255.1" cy="230.1" r="3.7"/>
<circle cx="235.9" cy="232.1" r="3.7"/>
<circle cx="328.4" cy="187.9" r="3.7"/>
<circle cx="328.9" cy="194.2" r="3.7"/>
<circle cx="331.8" cy="204.6" r="3.7"/>
<circle cx="302.2" cy="224.1" r="3.7"/>
<circle cx="286.7" cy="229.6" r="3.7"/>
<circle cx="300.0" cy="230.1" r="3.7"/>
<circle cx="343.5" cy="221.8" r="3.7"/>
<circle cx="353.2" cy="228.4" r="3.7"/>
<circle cx="423.8" cy="180.9" r="3.7"/>
<circle cx="376.2" cy="199.6" r="3.7"/>
<circle cx="200.9" cy="247.2" r="3.7"/>
<circle cx="204.7" cy="242.2" r="3.7"/>
<circle cx="207.6" cy="237.2" r="3.7"/>
<circle cx="211.7" cy="240.0" r="3.7"/>
<circle cx="219.2" cy="235.5" r="3.7"/>
<circle cx="214.2" cy="234.7" r="3.7"/>
<circle cx="240.1" cy="228.8" r="3.7"/>
<circle cx="251.8" cy="236.0" r="3.7"/>
<circle cx="224.3" cy="239.7" r="3.7"/>
<circle cx="229.3" cy="238.9" r="3.7"/>
<circle cx="234.3" cy="240.5" r="3.7"/>
<circle cx="239.3" cy="237.2" r="3.7"/>
<circle cx="242.6" cy="238.0" r="3.7"/>
<circle cx="246.8" cy="242.7" r="3.7"/>
<circle cx="241.8" cy="244.7" r="3.7"/>
<circle cx="236.8" cy="244.7" r="3.7"/>
<circle cx="230.9" cy="243.9" r="3.7"/>
<circle cx="225.1" cy="243.9" r="3.7"/>
<circle cx="220.1" cy="243.0" r="3.7"/>
<circle cx="219.2" cy="247.7" r="3.7"/>
<circle cx="224.3" cy="247.7" r="3.7"/>
<circle cx="227.6" cy="252.7" r="3.7"/>
<circle cx="229.3" cy="256.7" r="3.7"/>
<circle cx="233.4" cy="257.7" r="3.7"/>
<circle cx="240.1" cy="263.1" r="3.7"/>
<circle cx="237.6" cy="266.7" r="3.7"/>
<circle cx="254.3" cy="251.4" r="3.7"/>
<circle cx="251.0" cy="253.9" r="3.7"/>
<circle cx="249.3" cy="258.6" r="3.7"/>
<circle cx="246.8" cy="257.7" r="3.7"/>
<circle cx="256.0" cy="261.4" r="3.7"/>
<circle cx="256.0" cy="267.2" r="3.7"/>
<circle cx="250.6" cy="270.6" r="3.7"/>
<circle cx="246.3" cy="275.3" r="3.7"/>
<circle cx="259.8" cy="243.9" r="3.7"/>
<circle cx="308.4" cy="238.9" r="3.7"/>
<circle cx="310.1" cy="242.7" r="3.7"/>
<circle cx="308.4" cy="244.7" r="3.7"/>
<circle cx="300.1" cy="242.7" r="3.7"/>
<circle cx="285.6" cy="242.7" r="3.7"/>
<circle cx="286.2" cy="246.4" r="3.7"/>
<circle cx="278.9" cy="246.7" r="3.7"/>
<circle cx="275.5" cy="250.0" r="3.7"/>
<circle cx="267.5" cy="246.4" r="3.7"/>
<circle cx="320.1" cy="252.7" r="3.7"/>
<circle cx="308.8" cy="256.4" r="3.7"/>
<circle cx="263.7" cy="259.7" r="3.7"/>
<circle cx="267.0" cy="262.7" r="3.7"/>
<circle cx="270.9" cy="263.6" r="3.7"/>
<circle cx="275.4" cy="263.1" r="3.7"/>
<circle cx="277.2" cy="261.1" r="3.7"/>
<circle cx="290.6" cy="266.9" r="3.7"/>
<circle cx="321.5" cy="267.2" r="3.7"/>
<circle cx="293.1" cy="276.9" r="3.7"/>
<circle cx="330.2" cy="277.6" r="3.7"/>
<circle cx="326.0" cy="286.0" r="3.7"/>
<circle cx="293.7" cy="288.5" r="3.7"/>
<circle cx="382.6" cy="239.7" r="3.7"/>
<circle cx="325.4" cy="291.5" r="3.7"/>
</g>
<rect x="57.4" y="3.9" width="422.8" height="313.9" fill="none" stroke="#262626" stroke-width="1.1"/>
<g stroke="#1a1a1a" stroke-width="1.1">
<line x1="52.6" x2="57.4" y1="313.90" y2="313.90"/>
<line x1="52.6" x2="57.4" y1="275.70" y2="275.70"/>
<line x1="52.6" x2="57.4" y1="237.50" y2="237.50"/>
<line x1="52.6" x2="57.4" y1="199.30" y2="199.30"/>
<line x1="52.6" x2="57.4" y1="161.10" y2="161.10"/>
<line x1="52.6" x2="57.4" y1="122.90" y2="122.90"/>
<line x1="52.6" x2="57.4" y1="84.70" y2="84.70"/>
<line x1="52.6" x2="57.4" y1="46.50" y2="46.50"/>
<line x1="52.6" x2="57.4" y1="8.30" y2="8.30"/>
<line x1="63.20" x2="63.20" y1="317.8" y2="322.8"/>
<line x1="114.90" x2="114.90" y1="317.8" y2="322.8"/>
<line x1="166.60" x2="166.60" y1="317.8" y2="322.8"/>
<line x1="218.30" x2="218.30" y1="317.8" y2="322.8"/>
<line x1="270.00" x2="270.00" y1="317.8" y2="322.8"/>
<line x1="321.70" x2="321.70" y1="317.8" y2="322.8"/>
<line x1="373.40" x2="373.40" y1="317.8" y2="322.8"/>
<line x1="425.10" x2="425.10" y1="317.8" y2="322.8"/>
<line x1="476.80" x2="476.80" y1="317.8" y2="322.8"/>
</g>
<g font-size="13.6" text-anchor="end">
<text x="48.6" y="318.8">−30</text>
<text x="48.6" y="280.6">−20</text>
<text x="48.6" y="242.4">−10</text>
<text x="48.6" y="204.2">0</text>
<text x="48.6" y="166.0">10</text>
<text x="48.6" y="127.8">20</text>
<text x="48.6" y="89.6">30</text>
<text x="48.6" y="51.4">40</text>
<text x="48.6" y="13.2">50</text>
</g>
<g font-size="13.6" text-anchor="middle">
<text x="63.2" y="341.8">0</text>
<text x="114.9" y="341.8">10</text>
<text x="166.6" y="341.8">20</text>
<text x="218.3" y="341.8">30</text>
<text x="270.0" y="341.8">40</text>
<text x="321.7" y="341.8">50</text>
<text x="373.4" y="341.8">60</text>
<text x="425.1" y="341.8">70</text>
<text x="476.8" y="341.8">80</text>
</g>
<rect x="77.9" y="18.6" width="215.7" height="42.6" fill="#fff" stroke="#1a1a1a" stroke-width="1"/>
<rect x="93.1" y="27.4" width="5.9" height="5.9" fill="#808080"/>
<circle cx="96" cy="49.1" r="3.55" fill="#0a0a0a"/>
<text x="120.3" y="36" font-size="13.85">AquaFlux - Tewameter</text>
<text x="120.3" y="54.6" font-size="13.85">VapoMeter - Tewameter</text>
<text x="221.5" y="365.9" font-size="13.6">Mean [g m<tspan font-size="10.4" dy="-4.4" dx="0.8">−2</tspan><tspan dy="4.4" dx="0.3">h</tspan><tspan font-size="10.4" dy="-4.4" dx="0.8">−1</tspan><tspan dy="4.4" dx="0.2">]</tspan></text>
<text transform="translate(16.6,226.2) rotate(-90)" font-size="13.6">Difference [g m<tspan font-size="10.4" dy="-4.4" dx="0.8">−2</tspan><tspan dy="4.4" dx="0.3">h</tspan><tspan font-size="10.4" dy="-4.4" dx="0.8">−1</tspan><tspan dy="4.4" dx="0.2">]</tspan></text>
</svg></body></html>
